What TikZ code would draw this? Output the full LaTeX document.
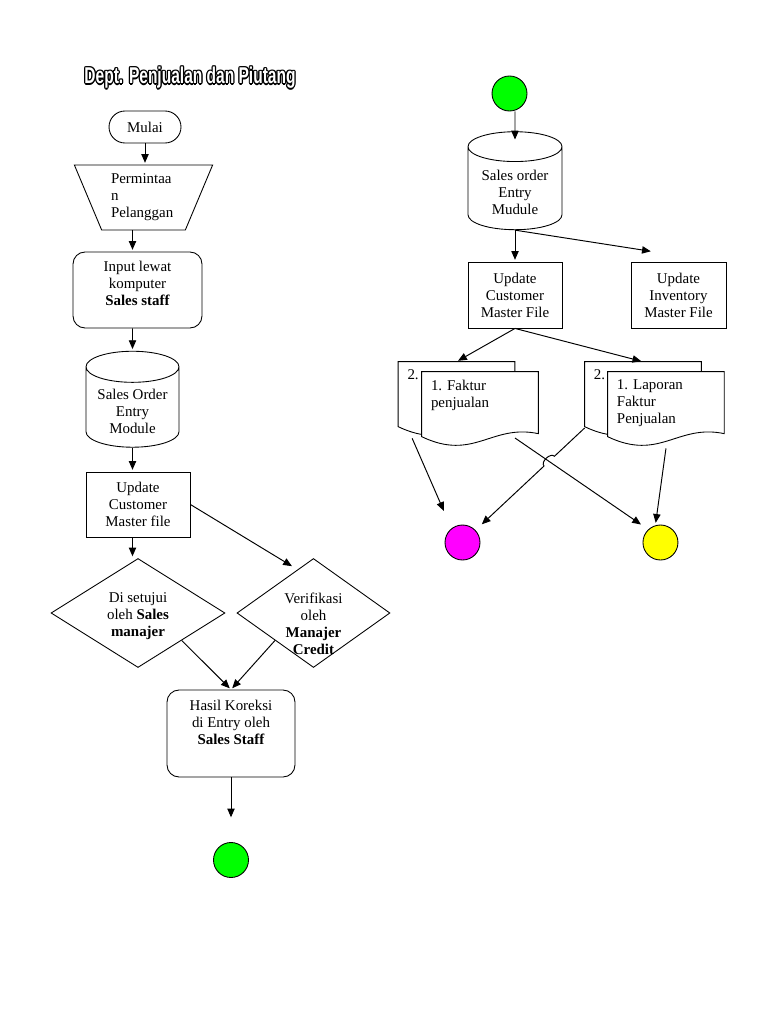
\documentclass[tikz,border=0pt]{standalone}
\usepackage{fontspec}
\setmainfont{Liberation Serif}
\newfontfamily\judulfont{Liberation Sans}
\usepackage{graphicx}
\usepackage{tikz}
\usetikzlibrary{calc}
\usetikzlibrary{shapes.geometric, arrows.meta, positioning}
\newcommand{\isi}{\fontsize{8.5}{9.7}\selectfont}
\definecolor{hijau}{RGB}{0,255,0}
\definecolor{ungu}{RGB}{255,0,255}
\definecolor{kuning}{RGB}{255,255,0}
\tikzstyle{arrow} = [line width=0.55pt,-{Triangle[length=5pt,width=4.2pt]}]
\tikzstyle{garis} = [draw,line width=0.5pt]
\tikzstyle{proses} = [rectangle,garis,fill=white,align=center,minimum width=2.08cm,minimum height=1.3cm,inner sep=1pt]
\tikzstyle{proses_r} = [proses,rounded corners=0.24cm,minimum width=2.58cm,minimum height=1.52cm]
\tikzstyle{mulai} = [proses,rounded corners=0.32cm,minimum width=1.44cm,minimum height=0.64cm]
\tikzstyle{manual} = [trapezium,shape border rotate=180,trapezium stretches=true,trapezium left angle=67,trapezium right angle=67,garis,align=left,text width=1.3cm,minimum width=2.78cm,minimum height=1.3cm]
\tikzstyle{db} = [cylinder,shape border rotate=90,aspect=0.38,garis,fill=white,align=center,minimum width=1.86cm,minimum height=1.92cm]
\tikzstyle{keputusan} = [diamond,garis,minimum height=2.18cm,inner sep=0]
\tikzstyle{titik} = [circle,garis,minimum size=0.7cm,inner sep=0]
\tikzstyle{docbox} = [rectangle,minimum width=2.32cm,minimum height=1.52cm,inner sep=0]
\tikzstyle{doctext} = [anchor=north west,align=left,inner xsep=0.18cm,inner ysep=0.16cm]
\tikzstyle{judul} = [font=\judulfont\bfseries\fontsize{13}{13}\selectfont]
% document outline with wavy bottom, drawn from a docbox node
\newcommand{\dokumen}[1]{%
  \draw[garis,fill=white] (#1.north west) -- (#1.north east) -- ($(#1.north east)+(0,62)$)
    .. controls ($(#1.north west)+(69.6,52)$) and ($(#1.north west)+(52.2,90)$) .. ($(#1.north west)+(0,65)$) -- cycle;}

\begin{document}
\begin{tikzpicture}[shorten >=1pt,on grid,auto,x=0.02cm,y=-0.02cm,every node/.style={font=\isi}]
    \useasboundingbox (0,0) rectangle (768,1024);
    % judul
    \foreach \dx/\dy in {-0.7/0,0.7/0,0/-0.7,0/0.7,-0.5/-0.5,0.5/0.5,-0.5/0.5,0.5/-0.5}
        \node[judul,text=black,xshift=\dx pt,yshift=\dy pt] at (190,78) {\scalebox{0.68}[1]{Dept. Penjualan dan Piutang}};
    \node[judul,text=white] (judul) at (190,78) {\scalebox{0.68}[1]{Dept. Penjualan dan Piutang}};
    % kolom kiri
   	\node[mulai](mulai) at (145,127) {Mulai};
   	\node[manual](minta) at (143.5,197.5) {Permintaa\\n\\Pelanggan};
   	\node[proses_r,text depth=0.27cm](input) at (137.5,290) {Input lewat\\komputer\\\textbf{Sales staff}};
   	\node[db](cyl_l) at (132.5,411) {Sales Order\\Entry\\Module};
   	\node[proses](upd_l) at (138,504.5) {Update\\Customer\\Master file};
   	\node[keputusan,minimum width=3.48cm](dia_1) at (138,613) {};
   	\node[keputusan,minimum width=3.06cm,right=3.51cm of dia_1](dia_2) {};
   	\node[align=center](dia_1_t) at (138,616) {Di setujui\\oleh \textbf{Sales}\\\textbf{manajer}};
   	\node[align=center](dia_2_t) at (313.5,624) {Verifikasi\\oleh\\\textbf{Manajer}\\\textbf{Credit}};
   	\node[proses_r,minimum width=2.56cm,minimum height=1.74cm,text depth=0.45cm](hasil) at (231,733.5) {Hasil Koreksi\\di Entry oleh\\\textbf{Sales Staff}};
   	\node[titik,fill=hijau](g_1) at (231,860) {};
    \draw[arrow] (mulai.south) -- (mulai.south |- minta.north);
    \draw[arrow] (minta.south -| cyl_l) -- (input.north -| cyl_l);
    \draw[arrow] (input.south -| cyl_l) -- (cyl_l.north);
    \draw[arrow] (cyl_l.south) -- (upd_l.north -| cyl_l);
    \draw[arrow] (upd_l.south -| cyl_l) -- (dia_1.north -| cyl_l);
    \draw[arrow] (upd_l.east) -- ([shift={(-20,9)}]dia_2.north);
    \draw[arrow] (dia_1.south east) -- (hasil.north);
    \draw[arrow] (dia_2.south west) -- (hasil.north);
    \draw[arrow] (hasil.south) -- ([shift={(0,-23)}]g_1.north);
    % kolom kanan
   	\node[titik,fill=hijau](g_2) at (509.5,93.5) {};
   	\node[db,minimum width=1.88cm,minimum height=1.96cm](cyl_r) at (515,192) {Sales order\\Entry\\Mudule};
   	\node[proses,minimum width=1.88cm,minimum height=1.32cm](upd_r) at (515,295) {Update\\Customer\\Master File};
   	\node[proses,minimum width=1.9cm,minimum height=1.32cm,right=3.27cm of upd_r](inv) {Update\\Inventory\\Master File};
   	\node[docbox](fak_2) at (456.5,400) {};
    \dokumen{fak_2}
   	\node[doctext](fak_2_t) at (fak_2.north west) {2.};
   	\node[docbox,below right=0.2cm and 0.47cm of fak_2](fak_1) {};
    \dokumen{fak_1}
   	\node[doctext](fak_1_t) at (fak_1.north west) {1. Faktur\\penjualan};
   	\node[docbox,right=3.73cm of fak_2](lap_2) {};
    \dokumen{lap_2}
   	\node[doctext](lap_2_t) at (lap_2.north west) {2.};
   	\node[docbox,below right=0.2cm and 0.46cm of lap_2](lap_1) {};
    \dokumen{lap_1}
   	\node[doctext](lap_1_t) at (lap_1.north west) {1. Laporan\\Faktur\\Penjualan};
   	\node[titik,fill=ungu](mag) at (462.5,542.5) {};
   	\node[titik,fill=kuning,right=3.96cm of mag](kun) {};
    \draw[arrow] (g_2.south -| cyl_r) -- ([shift={(0,10)}]cyl_r.north);
    \draw[arrow] (cyl_r.south) -- (upd_r.north);
    \draw[arrow] (cyl_r.south) -- ([shift={(22,-10)}]inv.north west);
    \draw[arrow] (upd_r.south) -- (fak_2.north);
    \draw[arrow] (upd_r.south) -- (lap_2.north);
    \draw[arrow] ([shift={(14,0)}]fak_2.south west) -- ([shift={(-18,-30)}]mag.center);
    \coordinate (a_0) at ([shift={(0,28)}]lap_2.west);
    \coordinate (a_1) at ([shift={(18,-17)}]mag.center);
    \draw[arrow] (a_0) -- ($(a_0)!0.29!(a_1)$) to[bend right=90] ($(a_0)!0.39!(a_1)$) -- (a_1);
    \draw[arrow] ([shift={(35,28)}]fak_1.center) -- ([shift={(-18,-17)}]kun.center);
    \draw[arrow] (lap_1.south) -- ([shift={(-5,0)}]kun.north);
\end{tikzpicture}
\end{document}
